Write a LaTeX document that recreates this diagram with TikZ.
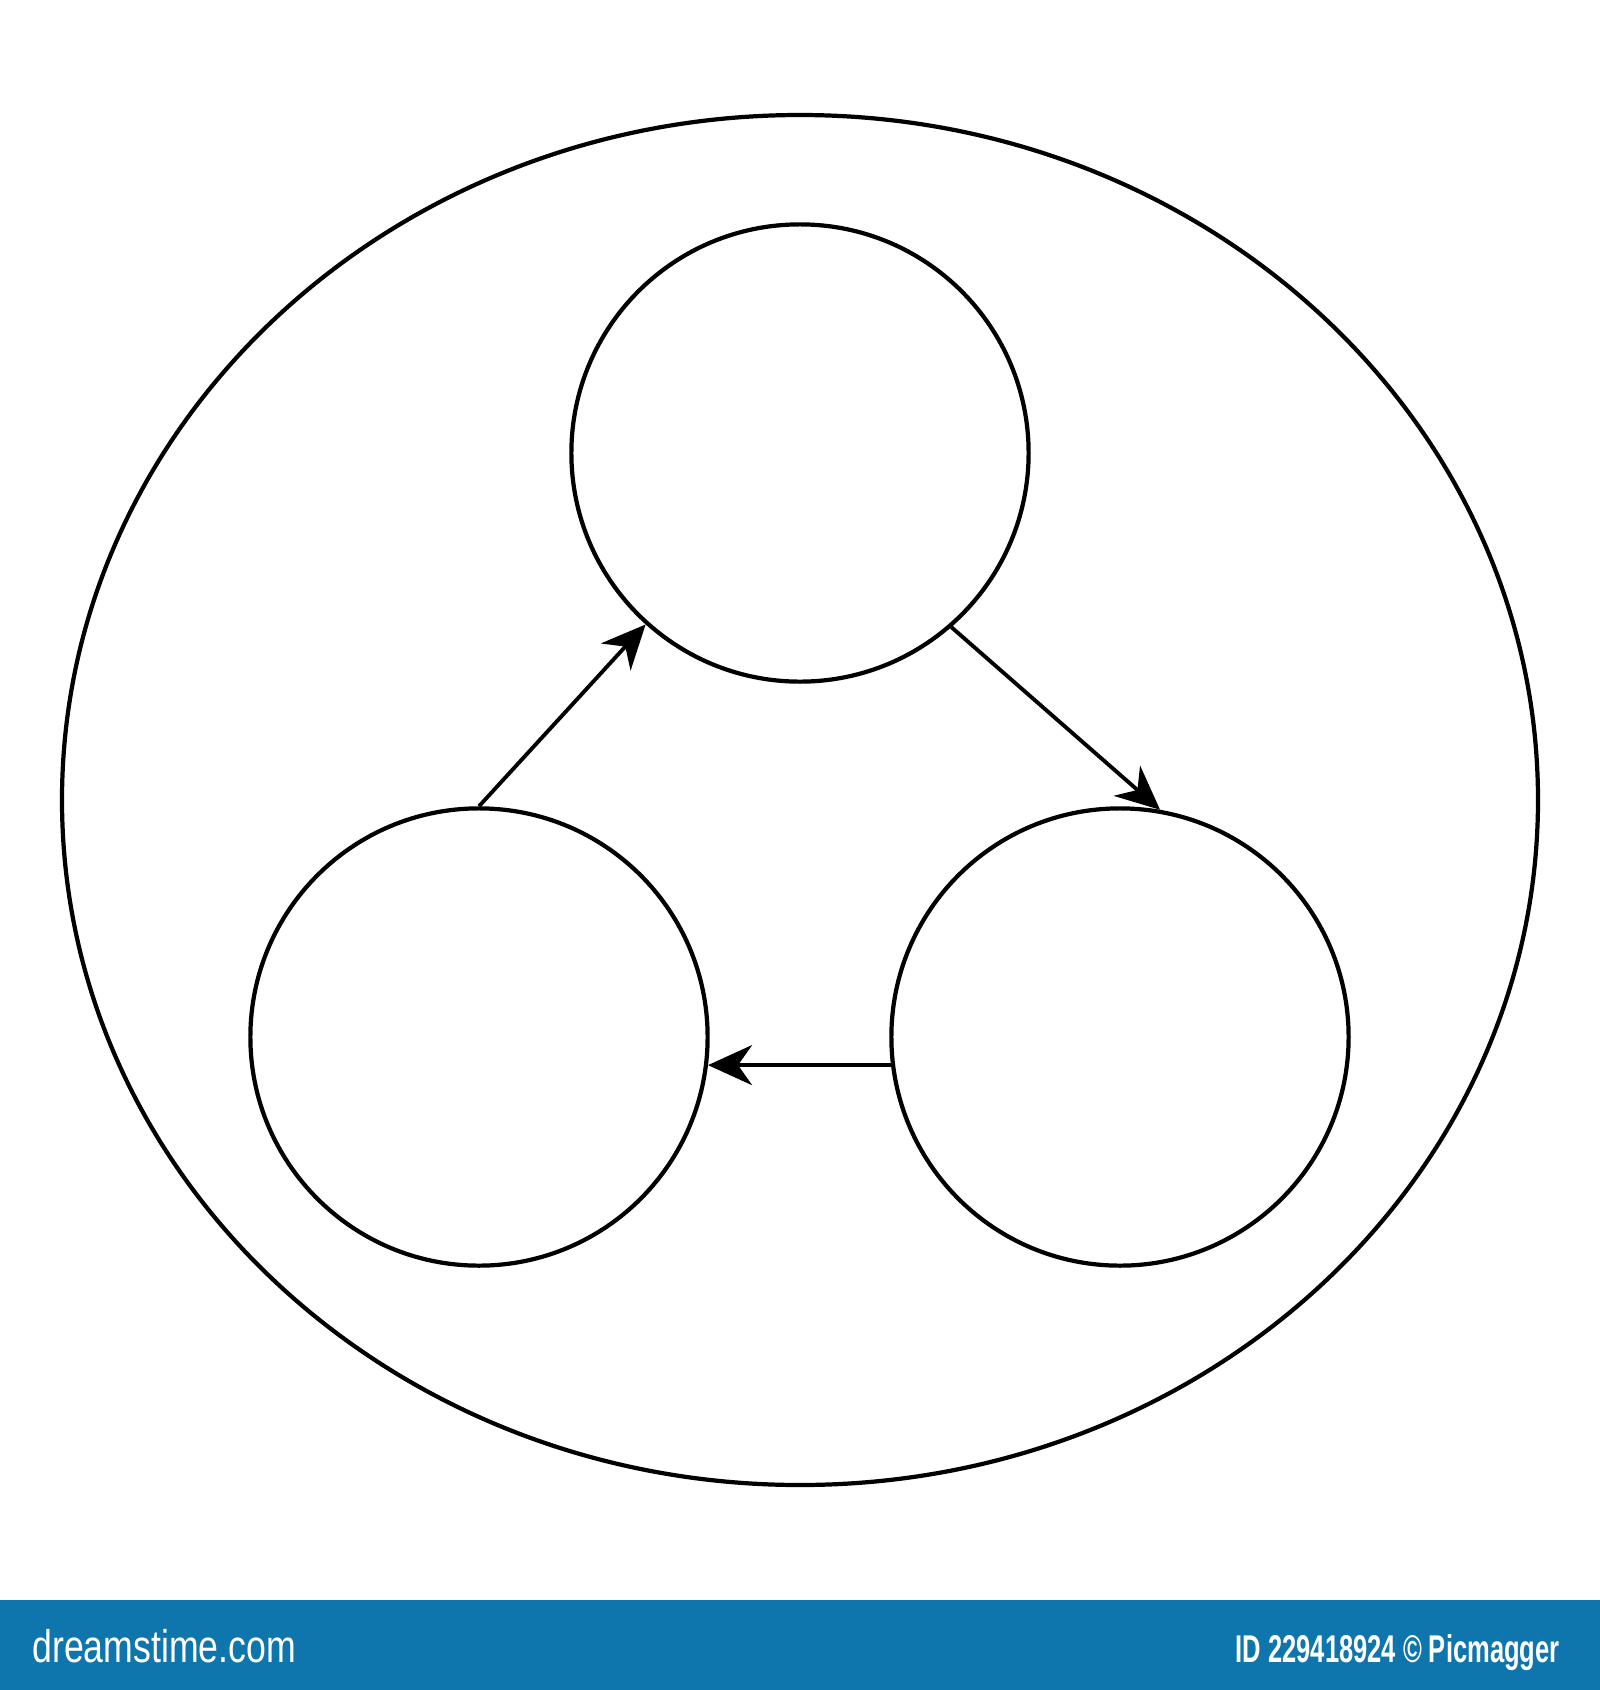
\documentclass[tikz,border=0pt]{standalone}
\usepackage{fontspec}
\setsansfont{Liberation Sans}
\usetikzlibrary{arrows.meta}
\definecolor{barblue}{HTML}{0F76AD}
\tikzset{
	stage/.style={draw, circle, line width=1.2pt, minimum size=4.57cm, inner sep=0pt},
	flow/.style={-{Stealth[length=4.4mm, width=4mm, inset=1.4mm]}, line width=1.1pt},
}
\begin{document}
\begin{tikzpicture}[x=0.01cm, y=-0.01cm]
		\useasboundingbox (0,0) rectangle (1600,1690);
		\draw[line width=1.2pt] (800,800) ellipse [x radius=738, y radius=685];
		
		\node[stage] (top) at (800,453) {};
		\node[stage] (left) at (479,1037) {};
		\node[stage] (right) at (1120,1037) {};
		
		\draw[flow] (left.north) -- (top.228.5);
		\draw[flow] (top.311.5) -- (right.80);
		\draw[flow] (right.187.6) -- (left.-7.6);
		
		\fill[barblue] (0,1600) rectangle (1600,1690);
		\node[anchor=base west, text=white, font=\sffamily\fontsize{13}{13}\selectfont] (brand) at (20,1662) {\scalebox{0.78}[1]{dreamstime.com}};
		\node[anchor=base east, text=white, font=\sffamily\bfseries\fontsize{11}{11}\selectfont] (credit) at (1572,1662) {\scalebox{0.66}[1]{ID 229418924 © Picmagger}};
	\end{tikzpicture}
\end{document}
